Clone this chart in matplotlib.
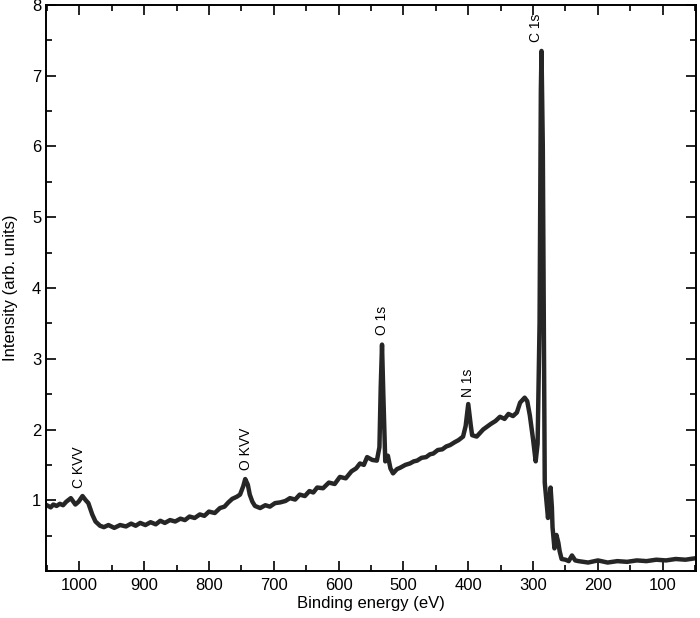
import matplotlib
matplotlib.use('Agg')
import matplotlib.pyplot as plt
from matplotlib.ticker import MultipleLocator

plt.rcParams['font.family'] = ['Liberation Sans', 'DejaVu Sans']

# survey spectrum (binding energy in eV, intensity in arb. units)
energy = [1050, 1044, 1040, 1035, 1030, 1025, 1020, 1013, 1006, 1001, 995, 990, 986,
          980, 975, 968, 962, 955, 946, 937, 928, 920, 913, 906, 898, 890, 882, 875,
          868, 860, 852, 844, 837, 830, 822, 814, 807, 800, 791, 783, 776, 770, 764,
          757, 752, 747, 744, 740, 737, 733, 729, 721, 713, 706, 698, 690, 682, 675,
          667, 660, 652, 645, 639, 633, 624, 615, 606, 598, 589, 580, 573, 567, 561,
          556, 548, 541, 537, 535, 533, 531, 528, 524, 520, 516, 510, 505, 497, 490,
          484, 479, 472, 465, 459, 454, 447, 440, 434, 428, 421, 415, 408, 404, 400,
          396, 394, 387, 382, 377, 371, 365, 358, 351, 344, 338, 331, 325, 320, 313,
          309, 305, 300, 296, 293, 290, 288, 287, 285, 282, 279, 277, 275, 273, 271,
          270, 267, 264, 261, 259, 256, 250, 245, 240, 235, 230, 215, 200, 185, 170,
          155, 140, 125, 110, 95, 80, 65, 50]
intensity = [0.93, 0.90, 0.94, 0.92, 0.95, 0.93, 0.98, 1.03, 0.94, 0.98, 1.06, 1.00, 0.96,
             0.80, 0.70, 0.64, 0.62, 0.65, 0.61, 0.65, 0.63, 0.67, 0.64, 0.68, 0.65, 0.69, 0.66,
             0.71, 0.68, 0.72, 0.70, 0.74, 0.72, 0.77, 0.75, 0.80, 0.78, 0.84, 0.82, 0.89, 0.91,
             0.97, 1.02, 1.05, 1.08, 1.20, 1.30, 1.22, 1.08, 0.98, 0.92, 0.89, 0.93, 0.91, 0.96,
             0.97, 0.99, 1.03, 1.01, 1.08, 1.06, 1.13, 1.11, 1.18, 1.17, 1.25, 1.23, 1.33, 1.31,
             1.41, 1.45, 1.52, 1.50, 1.61, 1.57, 1.56, 1.75, 2.60, 3.20, 2.50, 1.55, 1.63, 1.45,
             1.38, 1.44, 1.46, 1.50, 1.52, 1.55, 1.56, 1.60, 1.61, 1.65, 1.66, 1.71, 1.72, 1.76,
             1.78, 1.82, 1.85, 1.90, 2.05, 2.36, 2.05, 1.92, 1.90, 1.95, 2.00, 2.04, 2.08, 2.12,
             2.18, 2.15, 2.22, 2.19, 2.24, 2.38, 2.45, 2.40, 2.20, 1.86, 1.55, 1.80, 3.50, 6.80,
             7.35, 6.00, 1.25, 0.95, 0.75, 0.95, 1.18, 0.90, 0.62, 0.32, 0.51, 0.40, 0.28, 0.17,
             0.16, 0.14, 0.22, 0.15, 0.14, 0.12, 0.15, 0.12, 0.14, 0.13, 0.15, 0.14, 0.16, 0.15,
             0.17, 0.16, 0.18]

# peak labels: text, energy, height of the text's lower end
peak_names = ['C KVV', 'O KVV', 'O 1s', 'N 1s', 'C 1s']
peak_pos = [1000, 743, 533, 400, 296]
peak_y = [1.18, 1.43, 3.34, 2.46, 7.48]

fig = plt.figure(figsize=(7.0, 6.18), dpi=100)
ax = fig.add_axes([0.066, 0.076, 0.928, 0.916])

ax.plot(energy, intensity, color='#262626', lw=3.2, solid_joinstyle='round')

for name, xp, yp in zip(peak_names, peak_pos, peak_y):
    ax.text(xp, yp, name, rotation=90, ha='center', va='bottom', fontsize=10)

ax.set_xlim(1051, 49)
ax.set_ylim(0, 8)
ax.xaxis.set_minor_locator(MultipleLocator(50))
ax.set_xticks(range(100, 1001, 100))
ax.set_yticks(range(1, 9))
ax.yaxis.set_minor_locator(MultipleLocator(0.5))
ax.tick_params(which='both', direction='in', top=True, right=True, labelsize=12, width=1.2)
ax.tick_params(which='major', length=7)
ax.tick_params(which='minor', length=4)
ax.tick_params(axis='x', pad=5)
for s in ax.spines.values():
    s.set_linewidth(1.4)

ax.set_xlabel('Binding energy (eV)', fontsize=12, labelpad=2)
ax.set_ylabel('Intensity (arb. units)', fontsize=12, labelpad=10)

fig.savefig('out.png', dpi=100)
